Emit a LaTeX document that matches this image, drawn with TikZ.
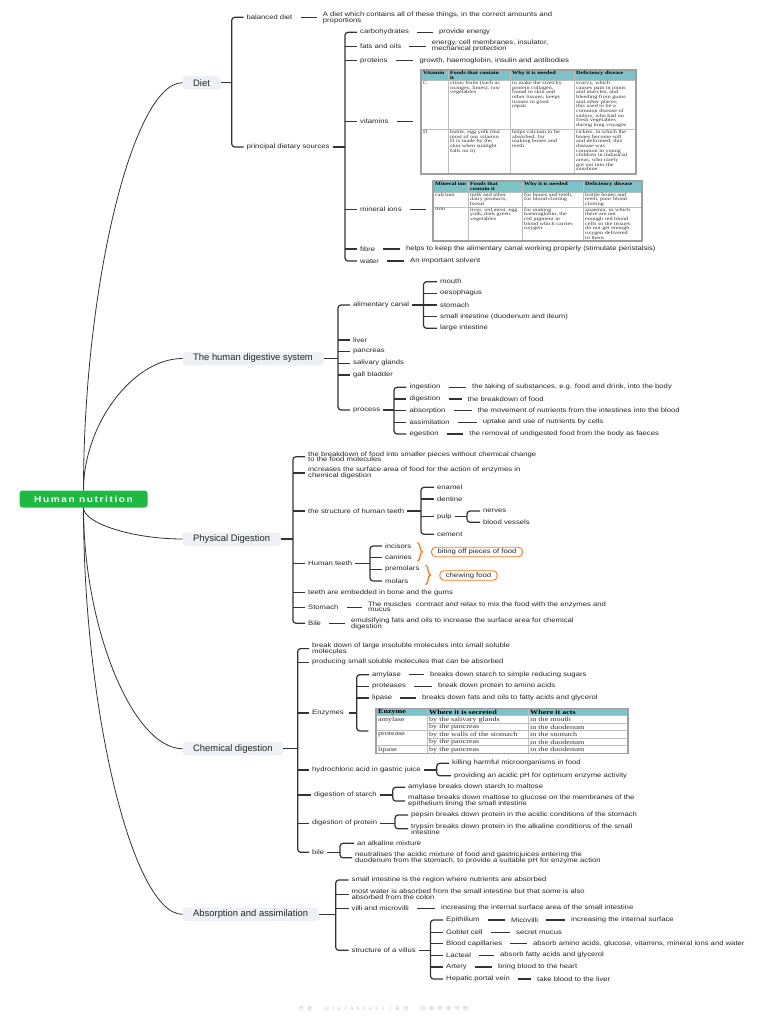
\documentclass[tikz,border=0pt]{standalone}
\usepackage{fontspec}
\setmainfont{Liberation Sans}
\newfontfamily\leafface{Liberation Sans}[FakeStretch=1.2]
\newfontfamily\rootface{Liberation Sans}[FakeStretch=1.15,LetterSpace=18]
\newfontfamily\tabface{Liberation Serif}[FakeStretch=1.28]
\newfontfamily\cjkface{Noto Sans CJK SC}[LetterSpace=70]
\usepackage{tikz}
\usetikzlibrary{calc,decorations.pathreplacing}

\definecolor{inkgray}{HTML}{333333}
\definecolor{topicfill}{HTML}{EDF0F4}
\definecolor{rootgreen}{HTML}{1DB941}
\definecolor{headteal}{HTML}{7CC2C7}
\definecolor{tabline}{HTML}{A0A0A0}
\definecolor{noteorange}{HTML}{FF7A21}

\newcommand{\leaffont}{\leafface\fontsize{6.4}{5.9}\selectfont\lineskiplimit=-6pt}
\newcommand{\topicfont}{\fontsize{9.4}{10}\selectfont}
\newcommand{\cellfont}{\tabface\fontsize{4.8}{4.7}\selectfont\lineskiplimit=-6pt}
\newcommand{\bigcellfont}{\tabface\fontsize{6.3}{7}\selectfont}

\begin{document}
\begin{tikzpicture}[
    x=1pt, y=-1pt,
    rootbox/.style={fill=rootgreen, text=white, rounded corners=3, minimum width=128, minimum height=17, inner sep=0, font=\rootface\fontsize{8.8}{10}\selectfont\bfseries},
    topicbox/.style={anchor=west, fill=topicfill, rounded corners=3, minimum height=13.5, inner xsep=10.5, inner ysep=0, text=black!85, font=\topicfont},
    leaf/.style={anchor=west, inner xsep=3, inner ysep=1, align=left, text=black!85, font=\leaffont},
    tie/.style={draw=inkgray, line width=1.2, rounded corners=3},
    joinline/.style={draw=inkgray, line width=1.1, shorten <=5, shorten >=3},
    rootcurve/.style={draw=inkgray, line width=0.8},
    cellt/.style={anchor=north west, inner sep=0, align=left, text=black!80, font=\cellfont},
    hcellt/.style={cellt, text=black, font=\cellfont\bfseries},
    ecellt/.style={anchor=west, inner sep=0, text=black!80, font=\bigcellfont},
    ehcellt/.style={ecellt, text=black, font=\bigcellfont\bfseries},
    tframe/.style={draw=tabline, line width=1.2, inner sep=0},
    tgrid/.style={draw=tabline!70, line width=0.5},
    notebox/.style={draw=noteorange, line width=0.9, rounded corners=4, fill=white, minimum height=9.5, inner xsep=6, inner ysep=0, text=black!85, font=\leaffont},
    obrace/.style={draw=noteorange, line width=1.3, decorate, decoration={brace, amplitude=5}}
]
\useasboundingbox (0,0) rectangle (768,1024);
\fill[white] (0,0) rectangle (768,1024);

% root and main topics
\node[rootbox] (rootnode) at (83.5,499) {Human nutrition};
\node[topicbox] (diet) at (182.5,82.7) {Diet};
\node[topicbox] (dig) at (182.5,358.5) {The human digestive system};
\node[topicbox] (phys) at (182.5,539) {Physical Digestion};
\node[topicbox] (chem) at (182.5,748.7) {Chemical digestion};
\node[topicbox] (abs) at (182.5,914.3) {Absorption and assimilation};

\draw[rootcurve] (rootnode.north) .. controls ($(rootnode.north)!0.5!(rootnode.north |- diet.west)$) and ($(rootnode.north |- diet.west)!0.5!(diet.west)$) .. (diet.west);
\draw[rootcurve] (rootnode.north) .. controls ($(rootnode.north)!0.5!(rootnode.north |- dig.west)$) and ($(rootnode.north |- dig.west)!0.5!(dig.west)$) .. (dig.west);
\draw[rootcurve] (rootnode.south) .. controls ($(rootnode.south)!0.5!(rootnode.south |- phys.west)$) and ($(rootnode.south |- phys.west)!0.5!(phys.west)$) .. (phys.west);
\draw[rootcurve] (rootnode.south) .. controls ($(rootnode.south)!0.5!(rootnode.south |- chem.west)$) and ($(rootnode.south |- chem.west)!0.5!(chem.west)$) .. (chem.west);
\draw[rootcurve] (rootnode.south) .. controls ($(rootnode.south)!0.5!(rootnode.south |- abs.west)$) and ($(rootnode.south |- abs.west)!0.5!(abs.west)$) .. (abs.west);

% Diet
\coordinate (dietJ) at (231.7,82.7);
\node[leaf] (bal) at (243.5,17.3) {balanced diet};
\node[leaf] (balD) at (319.7,17.5) {A diet which contains all of these things, in the correct amounts and\\proportions};
\node[leaf] (pds) at (243.5,147) {principal dietary sources};
\draw[tie] (diet.east) -- (dietJ);
\draw[tie] (bal.west) -| (dietJ) |- (pds.west);
\draw[joinline] (bal.east) -- (bal.east -| balD.west);

\coordinate (pdsJ) at (345,147);
\node[leaf] (carb) at (357,32.3) {carbohydrates};
\node[leaf] (carbD) at (436,32.3) {provide energy};
\node[leaf] (fats) at (357,46.7) {fats and oils};
\node[leaf] (fatsD) at (428.7,45.5) {energy, cell membranes, insulator,\\mechanical protection};
\node[leaf] (prot) at (357,60.7) {proteins};
\node[leaf] (protD) at (416.3,60.7) {growth, haemoglobin, insulin and antibodies};
\node[leaf] (vit) at (357,121.7) {vitamins};
\node[leaf] (mins) at (357,209.3) {mineral ions};
\node[leaf] (fibre) at (357,249) {fibre};
\node[leaf] (fibreD) at (403,249) {helps to keep the alimentary canal working properly (stimulate peristalsis)};
\node[leaf] (water) at (357,261) {water};
\node[leaf] (waterD) at (407,261) {An important solvent};
\draw[tie] (pds.east) -- (pdsJ);
\draw[tie] (carb.west) -| (pdsJ) |- (water.west);
\draw[tie] (pdsJ |- fats.west) -- (fats.west);
\draw[tie] (pdsJ |- prot.west) -- (prot.west);
\draw[tie] (pdsJ |- vit.west) -- (vit.west);
\draw[tie] (pdsJ |- mins.west) -- (mins.west);
\draw[tie] (pdsJ |- fibre.west) -- (fibre.west);
\draw[joinline] (carb.east) -- (carb.east -| carbD.west);
\draw[joinline] (fats.east) -- (fats.east -| fatsD.west);
\draw[joinline] (prot.east) -- (prot.east -| protD.west);
\draw[joinline] (fibre.east) -- (fibre.east -| fibreD.west);
\draw[joinline] (water.east) -- (water.east -| waterD.west);

% vitamin table
\fill[headteal] (421,70) rectangle (636,80);
\draw[tgrid] (448,70) -- (448,174) (510,70) -- (510,174) (574,70) -- (574,174)
  (421,80) -- (636,80) (421,129) -- (636,129);
\node[tframe, minimum width=215, minimum height=104] (vitT) at (528.5,122) {};
\draw[joinline, shorten >=7] (vit.east) -- (vit.east -| vitT.west);
\node[hcellt] (v11) at (423,70.8) {Vitamin};
\node[hcellt] (v12) at (450,70.8) {Foods that contain\\it};
\node[hcellt] (v13) at (512,70.8) {Why it is needed};
\node[hcellt] (v14) at (576,70.8) {Deficiency disease};
\node[cellt] (v21) at (423,80.8) {C};
\node[cellt] (v22) at (450,80.8) {citrus fruits (such as\\oranges, limes), raw\\vegetables};
\node[cellt] (v23) at (512,80.8) {to make the stretchy\\protein collagen,\\found in skin and\\other tissues; keeps\\tissues in good\\repair};
\node[cellt] (v24) at (576,80.8) {scurvy, which\\causes pain in joints\\and muscles, and\\bleeding from gums\\and other places;\\this used to be a\\common disease of\\sailors, who had no\\fresh vegetables\\during long voyages};
\node[cellt] (v31) at (423,129.8) {D};
\node[cellt] (v32) at (450,129.8) {butter, egg yolk (but\\most of our vitamin\\D is made by the\\skin when sunlight\\falls on it)};
\node[cellt] (v33) at (512,129.8) {helps calcium to be\\absorbed, for\\making bones and\\teeth};
\node[cellt] (v34) at (576,129.8) {rickets, in which the\\bones become soft\\and deformed; this\\disease was\\common in young\\children in industrial\\areas, who rarely\\got out into the\\sunshine};

% mineral table
\fill[headteal] (433,181) rectangle (642,192);
\draw[tgrid] (468,181) -- (468,241) (522,181) -- (522,241) (583,181) -- (583,241)
  (433,192) -- (642,192) (433,207) -- (642,207);
\node[tframe, minimum width=209, minimum height=60] (minT) at (537.5,211) {};
\draw[joinline, shorten >=6] (mins.east) -- (mins.east -| minT.west);
\node[hcellt] (m11) at (435,181.8) {Mineral ion};
\node[hcellt] (m12) at (470,181.8) {Foods that\\contain it};
\node[hcellt] (m13) at (524,181.8) {Why it is needed};
\node[hcellt] (m14) at (585,181.8) {Deficiency disease};
\node[cellt] (m21) at (435,192.6) {calcium};
\node[cellt] (m22) at (470,192.6) {milk and other\\dairy products,\\bread};
\node[cellt] (m23) at (524,192.6) {for bones and teeth,\\for blood clotting};
\node[cellt] (m24) at (585,192.6) {brittle bones and\\teeth, poor blood\\clotting};
\node[cellt] (m31) at (435,207.6) {iron};
\node[cellt] (m32) at (470,207.6) {liver, red meat, egg\\yolk, dark green\\vegetables};
\node[cellt] (m33) at (524,207.6) {for making\\haemoglobin, the\\red pigment in\\blood which carries\\oxygen};
\node[cellt] (m34) at (585,207.6) {anaemia, in which\\there are not\\enough red blood\\cells so the tissues\\do not get enough\\oxygen delivered\\to them};

% The human digestive system
\coordinate (digJ) at (338,358.5);
\node[leaf] (ali) at (350,305) {alimentary canal};
\node[leaf] (liver) at (350,340) {liver};
\node[leaf] (panc) at (350,351.7) {pancreas};
\node[leaf] (saliv) at (350,363.3) {salivary glands};
\node[leaf] (gall) at (350,375) {gall bladder};
\node[leaf] (proc) at (350,410) {process};
\draw[tie] (dig.east) -- (digJ);
\draw[tie] (ali.west) -| (digJ) |- (proc.west);
\draw[tie] (digJ |- liver.west) -- (liver.west);
\draw[tie] (digJ |- panc.west) -- (panc.west);
\draw[tie] (digJ |- saliv.west) -- (saliv.west);
\draw[tie] (digJ |- gall.west) -- (gall.west);

\coordinate (aliJ) at (423.5,305);
\node[leaf] (mouth) at (437,281.7) {mouth};
\node[leaf] (oes) at (437,293.3) {oesophagus};
\node[leaf] (stom) at (437,305) {stomach};
\node[leaf] (smint) at (437,316.7) {small intestine (duodenum and ileum)};
\node[leaf] (lgint) at (437,328.3) {large intestine};
\draw[tie] (ali.east) -- (aliJ);
\draw[tie] (mouth.west) -| (aliJ) |- (lgint.west);
\draw[tie] (aliJ |- oes.west) -- (oes.west);
\draw[tie] (aliJ |- stom.west) -- (stom.west);
\draw[tie] (aliJ |- smint.west) -- (smint.west);

\coordinate (procJ) at (394,410);
\node[leaf] (ing) at (406.4,387.3) {ingestion};
\node[leaf] (ingD) at (469,387.3) {the taking of substances, e.g. food and drink, into the body};
\node[leaf] (dige) at (406.4,399) {digestion};
\node[leaf] (digeD) at (464.5,399) {the breakdown of food};
\node[leaf] (absn) at (406.4,410.7) {absorption};
\node[leaf] (absnD) at (474.6,410.7) {the movement of nutrients from the intestines into the blood};
\node[leaf] (assim) at (406.4,422.3) {assimilation};
\node[leaf] (assimD) at (479.7,422.3) {uptake and use of nutrients by cells};
\node[leaf] (eges) at (406.4,434) {egestion};
\node[leaf] (egesD) at (466.2,434) {the removal of undigested food from the body as faeces};
\draw[tie] (proc.east) -- (procJ);
\draw[tie] (ing.west) -| (procJ) |- (eges.west);
\draw[tie] (procJ |- dige.west) -- (dige.west);
\draw[tie] (procJ |- absn.west) -- (absn.west);
\draw[tie] (procJ |- assim.west) -- (assim.west);
\draw[joinline] (ing.east) -- (ing.east -| ingD.west);
\draw[joinline] (dige.east) -- (dige.east -| digeD.west);
\draw[joinline] (absn.east) -- (absn.east -| absnD.west);
\draw[joinline] (assim.east) -- (assim.east -| assimD.west);
\draw[joinline] (eges.east) -- (eges.east -| egesD.west);

% Physical Digestion
\coordinate (physJ) at (293,539);
\node[leaf] (ph1) at (305,456.7) {the breakdown of food into smaller pieces without chemical change\\to the food molecules};
\node[leaf] (ph2) at (305,473) {increases the surface area of food for the action of enzymes in\\chemical digestion};
\node[leaf] (struct) at (305,511) {the structure of human teeth};
\node[leaf] (hteeth) at (305,563.3) {Human teeth};
\node[leaf] (embed) at (305,592.7) {teeth are embedded in bone and the gums};
\node[leaf] (pstom) at (305,607.3) {Stomach};
\node[leaf] (pstomD) at (365,606.7) {The muscles\ \ contract and relax to mix the food with the enzymes and\\mucus};
\node[leaf] (pbile) at (305,623.3) {Bile};
\node[leaf] (pbileD) at (348,623.5) {emulsifying fats and oils to increase the surface area for chemical\\digestion};
\draw[tie] (phys.east) -- (physJ);
\draw[tie] (ph1.west) -| (physJ) |- (pbile.west);
\draw[tie] (physJ |- ph2.west) -- (ph2.west);
\draw[tie] (physJ |- struct.west) -- (struct.west);
\draw[tie] (physJ |- hteeth.west) -- (hteeth.west);
\draw[tie] (physJ |- embed.west) -- (embed.west);
\draw[tie] (physJ |- pstom.west) -- (pstom.west);
\draw[joinline] (pstom.east) -- (pstom.east -| pstomD.west);
\draw[joinline] (pbile.east) -- (pbile.east -| pbileD.west);

\coordinate (structJ) at (421,511);
\node[leaf] (enamel) at (434,487.3) {enamel};
\node[leaf] (dentine) at (434,499) {dentine};
\node[leaf] (pulp) at (434,516.7) {pulp};
\node[leaf] (cement) at (434,534.3) {cement};
\draw[tie] (struct.east) -- (structJ);
\draw[tie] (enamel.west) -| (structJ) |- (cement.west);
\draw[tie] (structJ |- dentine.west) -- (dentine.west);
\draw[tie] (structJ |- pulp.west) -- (pulp.west);

\coordinate (pulpJ) at (467,516.7);
\node[leaf] (nerves) at (480,511) {nerves};
\node[leaf] (vessels) at (480,522.3) {blood vessels};
\draw[tie] (pulp.east) -- (pulpJ);
\draw[tie] (nerves.west) -| (pulpJ) |- (vessels.west);

\coordinate (hteethJ) at (370,563.3);
\node[leaf] (incis) at (382,546) {incisors};
\node[leaf] (canin) at (382,557.7) {canines};
\node[leaf] (premol) at (382,569.3) {premolars};
\node[leaf] (molar) at (382,581) {molars};
\draw[tie] (hteeth.east) -- (hteethJ);
\draw[tie] (incis.west) -| (hteethJ) |- (molar.west);
\draw[tie] (hteethJ |- canin.west) -- (canin.west);
\draw[tie] (hteethJ |- premol.west) -- (premol.west);

\node[notebox] (bite) at (477,552) {biting off pieces of food};
\node[notebox] (chew) at (468.5,575.5) {chewing food};
\draw[obrace] ([xshift=3]incis.north east) -- ([xshift=3]incis.east |- canin.south);
\draw[obrace] ([xshift=3]premol.north east) -- ([xshift=3]premol.east |- molar.south);

% Chemical digestion
\coordinate (chemJ) at (297.7,748.7);
\node[leaf] (ch1) at (309,648.6) {break down of large insoluble molecules into small soluble\\molecules};
\node[leaf] (ch2) at (309,662.3) {producing small soluble molecules that can be absorbed};
\node[leaf] (enz) at (309,713) {Enzymes};
\node[leaf] (hcl) at (309,770) {hydrochloric acid in gastric juice};
\node[leaf] (starch) at (311,795) {digestion of starch};
\node[leaf] (prodig) at (309,823.3) {digestion of protein};
\node[leaf] (cbile) at (309,852.3) {bile};
\draw[tie] (chem.east) -- (chemJ);
\draw[tie] (ch1.west) -| (chemJ) |- (cbile.west);
\draw[tie] (chemJ |- ch2.west) -- (ch2.west);
\draw[tie] (chemJ |- enz.west) -- (enz.west);
\draw[tie] (chemJ |- hcl.west) -- (hcl.west);
\draw[tie] (chemJ |- starch.west) -- (starch.west);
\draw[tie] (chemJ |- prodig.west) -- (prodig.west);

% enzyme table
\fill[headteal] (376,708.5) rectangle (628,715.7);
\draw[tgrid] (427,708.5) -- (427,753.3) (528,708.5) -- (528,753.3)
  (376,715.7) -- (628,715.7) (427,723.2) -- (628,723.2) (376,730.7) -- (628,730.7)
  (427,738.2) -- (628,738.2) (376,745.7) -- (628,745.7);
\node[tframe, minimum width=252, minimum height=44.8] (enzT) at (502,730.9) {};
\node[ehcellt] (e11) at (378,712.1) {Enzyme};
\node[ehcellt] (e12) at (429,712.1) {Where it is secreted};
\node[ehcellt] (e13) at (530,712.1) {Where it acts};
\node[ecellt] (e21) at (378,719.5) {amylase};
\node[ecellt] (e22) at (429,719.5) {by the salivary glands};
\node[ecellt] (e23) at (530,719.5) {in the mouth};
\node[ecellt] (e32) at (429,727) {by the pancreas};
\node[ecellt] (e33) at (530,727) {in the duodenum};
\node[ecellt] (e41) at (378,734.5) {protease};
\node[ecellt] (e42) at (429,734.5) {by the walls of the stomach};
\node[ecellt] (e43) at (530,734.5) {in the stomach};
\node[ecellt] (e52) at (429,742) {by the pancreas};
\node[ecellt] (e53) at (530,742) {in the duodenum};
\node[ecellt] (e61) at (378,749.5) {lipase};
\node[ecellt] (e62) at (429,749.5) {by the pancreas};
\node[ecellt] (e63) at (530,749.5) {in the duodenum};

\coordinate (enzJ) at (356.7,713);
\node[leaf] (amy) at (369,674.7) {amylase};
\node[leaf] (amyD) at (427,674.7) {breaks down starch to simple reducing sugars};
\node[leaf] (prots) at (369,686.3) {proteases};
\node[leaf] (protsD) at (435,686.3) {break down protein to amino acids};
\node[leaf] (lip) at (369,698) {lipase};
\node[leaf] (lipD) at (419,698) {breaks down fats and oils to fatty acids and glycerol};
\draw[tie, shorten <=2] (enz.east) -- (enzJ);
\draw[tie, shorten >=7] (amy.west) -| (enzJ) |- (enzT.west);
\draw[tie] (enzJ |- prots.west) -- (prots.west);
\draw[tie] (enzJ |- lip.west) -- (lip.west);
\draw[joinline] (amy.east) -- (amy.east -| amyD.west);
\draw[joinline] (prots.east) -- (prots.east -| protsD.west);
\draw[joinline] (lip.east) -- (lip.east -| lipD.west);

\coordinate (hclJ) at (436.7,770);
\node[leaf] (kill) at (449,763.3) {killing harmful microorganisms in food};
\node[leaf] (acid) at (451,775.7) {providing an acidic pH for optimum enzyme activity};
\draw[tie] (hcl.east) -- (hclJ);
\draw[tie] (kill.west) -| (hclJ) |- (acid.west);

\coordinate (starchJ) at (392.7,795);
\node[leaf] (st1) at (405,787.3) {amylase breaks down starch to maltose};
\node[leaf] (st2) at (405,801) {maltase breaks down maltose to glucose on the membranes of the\\epithelium lining the small intestine};
\draw[tie] (starch.east) -- (starchJ);
\draw[tie] (st1.west) -| (starchJ) |- (st2.west);

\coordinate (prodigJ) at (395,823.3);
\node[leaf] (pr1) at (408,815) {pepsin breaks down protein in the acidic conditions of the stomach};
\node[leaf] (pr2) at (408,828.8) {trypsin breaks down protein in the alkaline conditions of the small\\intestine};
\draw[tie] (prodig.east) -- (prodigJ);
\draw[tie] (pr1.west) -| (prodigJ) |- (pr2.west);

\coordinate (cbileJ) at (340,852.3);
\node[leaf] (alk) at (354,843.3) {an alkaline mixture};
\node[leaf] (neut) at (352,857.8) {neutralises the acidic mixture of food and gastricjuices entering the\\duodenum from the stomach, to provide a suitable pH for enzyme action};
\draw[tie] (cbile.east) -- (cbileJ);
\draw[tie] (alk.west) -| (cbileJ) |- (neut.west);

% Absorption and assimilation
\coordinate (absJ) at (335.7,914.3);
\node[leaf] (ab1) at (348.5,880) {small intestine is the region where nutrients are absorbed};
\node[leaf] (ab2) at (348.5,894.3) {most water is absorbed from the small intestine but that some is also\\absorbed from the colon};
\node[leaf] (villi) at (348.5,908.3) {villi and microvilli};
\node[leaf] (villiD) at (438,908.3) {increasing the internal surface area of the small intestine};
\node[leaf] (villus) at (348.5,950.3) {structure of a villus};
\draw[tie] (abs.east) -- (absJ);
\draw[tie] (ab1.west) -| (absJ) |- (villus.west);
\draw[tie] (absJ |- ab2.west) -- (ab2.west);
\draw[tie] (absJ |- villi.west) -- (villi.west);
\draw[joinline] (villi.east) -- (villi.east -| villiD.west);

\coordinate (villusJ) at (430.5,950.3);
\node[leaf] (epi) at (443,920) {Epithilium};
\node[leaf] (mico) at (508,920) {Micovilli};
\node[leaf] (micoD) at (568,920) {increasing the internal surface};
\node[leaf] (gob) at (443,932.3) {Goblet cell};
\node[leaf] (gobD) at (513,932.3) {secret mucus};
\node[leaf] (blood) at (443,943.7) {Blood capillaries};
\node[leaf] (bloodD) at (530,943.7) {absorb amino acids, glucose, vitamins, mineral ions and water};
\node[leaf] (lact) at (443,955.3) {Lacteal};
\node[leaf] (lactD) at (497,955.3) {absorb fatty acids and glycerol};
\node[leaf] (art) at (443,967) {Artery};
\node[leaf] (artD) at (495,967) {bring blood to the heart};
\node[leaf] (hep) at (443,979) {Hepatic portal vein};
\node[leaf] (hepD) at (534,979) {take blood to the liver};
\draw[tie] (villus.east) -- (villusJ);
\draw[tie] (epi.west) -| (villusJ) |- (hep.west);
\draw[tie] (villusJ |- gob.west) -- (gob.west);
\draw[tie] (villusJ |- blood.west) -- (blood.west);
\draw[tie] (villusJ |- lact.west) -- (lact.west);
\draw[tie] (villusJ |- art.west) -- (art.west);
\draw[joinline] (epi.east) -- (epi.east -| mico.west);
\draw[joinline] (mico.east) -- (mico.east -| micoD.west);
\draw[joinline] (gob.east) -- (gob.east -| gobD.west);
\draw[joinline] (blood.east) -- (blood.east -| bloodD.west);
\draw[joinline] (lact.east) -- (lact.east -| lactD.west);
\draw[joinline] (art.east) -- (art.east -| artD.west);
\draw[joinline] (hep.east) -- (hep.east -| hepD.west);

% footer
\node[text=black!22, font=\cjkface\fontsize{5}{6}\selectfont] (credit) at (383.5,1009) {作者：@tx1445652 | 来自：知犀思维导图};

\end{tikzpicture}
\end{document}
